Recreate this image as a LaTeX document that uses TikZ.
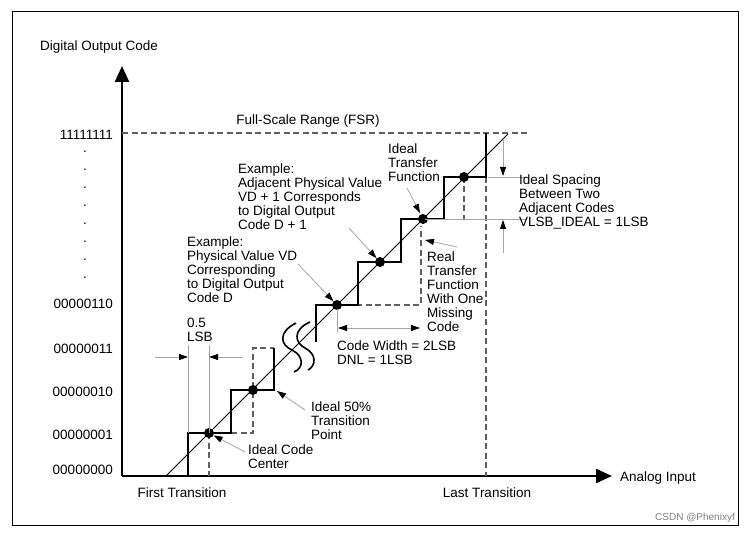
\documentclass[tikz,border=0pt]{standalone}
\usepackage{fontspec}
\setmainfont{Liberation Sans}
\usetikzlibrary{arrows.meta}
\begin{document}
\begin{tikzpicture}[x=1pt,y=-1pt,
  lbl/.style={font=\fontsize{13.5}{14}\selectfont,inner sep=0pt},
  ann/.style={lbl,align=left,anchor=north west},
  stair/.style={line width=2pt},
  dsh/.style={line width=1.8pt,dash pattern=on 6pt off 3.5pt,gray!75!black},
  thin/.style={gray!70,line width=0.8pt},
  ptr/.style={gray!70,line width=0.8pt,-{Triangle[black,length=9pt,width=6pt]}},
  dot/.style={circle,fill=black,inner sep=0pt,minimum size=10pt}]
\useasboundingbox (0,0) rectangle (750,537);
\draw[line width=1pt] (12,12) rectangle (738,525);
% axes
\coordinate (O) at (122,476);
\coordinate (Ytip) at (122,66);
\coordinate (Xtip) at (612,476);
\draw[line width=2.4pt,-{Triangle[length=16pt,width=14pt]}] (O) -- (Ytip);
\draw[line width=2.4pt,-{Triangle[length=16pt,width=14pt]}] (O) -- (Xtip);
\node[lbl,anchor=west] (yl) at (40,47) {Digital Output Code};
\node[lbl,anchor=west] (xl) at (620,478) {Analog Input};
% y labels
\foreach \t/\y in {11111111/135,00000110/304,00000011/349,00000010/392,00000001/435,00000000/470}
  \node[lbl,anchor=east] at (113,\y) {\t};
\foreach \y in {152,170,188,206,224,242,260,278}
  \node[lbl] at (85,\y) {.};
% FSR
\draw[dsh] (122,133) -- (527,133);
\node[lbl] (fsr) at (308,121) {Full-Scale Range (FSR)};
% diagonal
\draw[line width=0.8pt] (166,476) -- (508,134);
% dashed real function
\draw[dsh] (209,433) -- (209,476);
\draw[dsh] (231,433) -- (253,433) -- (253,348) -- (274,348);
\draw[dsh] (337,305) -- (421,305) -- (421,226);
\draw[dsh] (464,177) -- (464,219);
\draw[dsh] (486,177) -- (486,476);
% ideal stairs
\draw[stair] (188,476) -- (188,433) -- (231,433) -- (231,390) -- (274,390) -- (274,348);
\draw[stair] (316,342) -- (316,305) -- (358,305) -- (358,262) -- (401,262) -- (401,219) -- (444,219) -- (444,177) -- (486,177) -- (486,133);
% dots
\node[dot] (d1) at (209,433) {};
\node[dot] (d2) at (253,390) {};
\node[dot] (d3) at (337,305) {};
\node[dot] (d4) at (380,262) {};
\node[dot] (d5) at (423,219) {};
\node[dot] (d6) at (464,177) {};
% break symbols
\draw[line width=1.6pt] (296,323) .. controls (278,332) and (280,345) .. (292,350) .. controls (304,356) and (304,368) .. (294,372);
\draw[line width=1.6pt] (310,322) .. controls (292,330) and (295,343) .. (305,348) .. controls (317,354) and (316,366) .. (308,370);
% 0.5 LSB
\draw[thin] (188,345) -- (188,433);
\draw[thin] (209,345) -- (209,433);
\coordinate (h1) at (155,357); \coordinate (h1e) at (188,357);
\coordinate (h2) at (243,357); \coordinate (h2e) at (209,357);
\draw[ptr] (h1) -- (h1e);
\draw[ptr] (h2) -- (h2e);
\node[ann] (lsb) at (187,318) {0.5\\LSB};
% code width
\draw[thin] (337,309) -- (337,332);
\coordinate (cw1) at (379,328); \coordinate (cw1e) at (338,328);
\coordinate (cw2e) at (420,328);
\draw[ptr] (cw1) -- (cw1e);
\draw[ptr] (cw1) -- (cw2e);
\node[ann] (cw) at (337,341) {Code Width = 2LSB\\DNL = 1LSB};
% ideal spacing
\draw[thin] (488,177) -- (527,177);
\draw[thin] (425,219) -- (527,219);
\coordinate (s1) at (503,140); \coordinate (s1e) at (503,176);
\coordinate (s2) at (503,253); \coordinate (s2e) at (503,220);
\draw[ptr] (s1) -- (s1e);
\draw[ptr] (s2) -- (s2e);
\node[ann] (sp) at (519,175) {Ideal Spacing\\Between Two\\Adjacent Codes\\VLSB\_IDEAL = 1LSB};
% annotations
\node[ann] (e1) at (187,237) {Example:\\Physical Value VD\\Corresponding\\to Digital Output\\Code D};
\coordinate (e1a) at (298,264);
\draw[ptr] (e1a) -- (d3);
\node[ann] (e2) at (238,164) {Example:\\Adjacent Physical Value\\VD + 1 Corresponds\\to Digital Output\\Code D + 1};
\coordinate (e2a) at (349,228);
\draw[ptr] (e2a) -- (d4);
\node[ann] (itf) at (388,144) {Ideal\\Transfer\\Function};
\coordinate (itfa) at (407,188); \coordinate (itfe) at (420,213);
\draw[ptr] (itfa) -- (itfe);
\node[ann] (rtf) at (427,252) {Real\\Transfer\\Function\\With One\\Missing\\Code};
\coordinate (rtfa) at (457,247); \coordinate (rtfe) at (425,240);
\draw[ptr] (rtfa) -- (rtfe);
\node[ann] (tp) at (311,402) {Ideal 50\%\\Transition\\Point};
\coordinate (tpa) at (305,410); \coordinate (tpe) at (277,391);
\draw[ptr] (tpa) -- (tpe);
\node[ann] (cc) at (248,445) {Ideal Code\\Center};
\coordinate (cca) at (245,452);
\draw[ptr] (cca) -- (d1);
\node[lbl] (ft) at (182,493) {First Transition};
\node[lbl] (lt) at (487,493) {Last Transition};
\node[lbl,anchor=east,gray,font=\fontsize{10}{11}\selectfont] (wm) at (735,518) {CSDN @Phenixyf};
\end{tikzpicture}
\end{document}
